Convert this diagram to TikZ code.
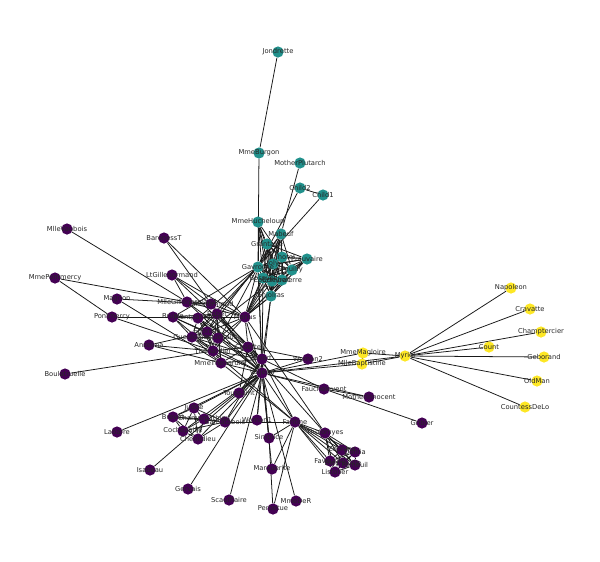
\documentclass[tikz,border=0pt]{standalone}
\usepackage{fontspec}
\setmainfont{DejaVu Sans}
\usepackage{tikz}
\usetikzlibrary{backgrounds}
\definecolor{grpA}{HTML}{440154}
\definecolor{grpB}{HTML}{21918C}
\definecolor{grpC}{HTML}{FDE725}

\begin{document}
\begin{tikzpicture}[x=0.025cm,y=-0.025cm,
  dot/.style={circle,inner sep=0pt,minimum size=0.28cm},
  lbl/.style={font=\fontsize{4.8}{5.5}\selectfont,inner sep=0pt,text=black!85},
  edge/.style={black!90,line width=0.55pt}]
  \useasboundingbox (0,0) rectangle (600,561);

  % the ten around the bishop
  \foreach \n/\x/\y in {Myriel/405/356, Napoleon/511/288, MlleBaptistine/362/364,
      MmeMagloire/363/353, CountessDeLo/525/407, Geborand/544/357,
      Champtercier/541/332, Cravatte/530/309, Count/489/347, OldMan/537/381}
    \node[dot,fill=grpC] (\n) at (\x,\y) {};

  % the barricade
  \foreach \n/\x/\y in {Jondrette/278/52, MmeBurgon/259/153, MotherPlutarch/300/163,
      Child2/300/188, Child1/323/195, MmeHucheloup/258/222, Mabeuf/281/234,
      Grantaire/267/244, Bahorel/282/257, Prouvaire/307/259, Joly/273/264,
      Gavroche/258/267, Feuilly/292/270, Bossuet/263/278, Courfeyrac/272/281,
      Combeferre/282/280, Enjolras/271/296}
    \node[dot,fill=grpB] (\n) at (\x,\y) {};

  % everybody else
  \foreach \n/\x/\y in {Labarre/117/432, Valjean/262/373, Marguerite/272/469,
      MmeDeR/296/501, Isabeau/150/470, Gervais/188/489, Tholomyes/325/433,
      Listolier/335/472, Fameuil/355/465, Blacheville/343/463, Favourite/330/461,
      Dahlia/355/452, Zephine/342/450, Fantine/295/422, MmeThenardier/221/363,
      Thenardier/213/351, Cosette/248/347, Javert/262/359, Fauchelevent/324/389,
      Bamatabois/225/422, Perpetue/273/509, Simplice/269/438, Scaufflaire/229/500,
      Woman1/257/420, Judge/194/408, Champmathieu/204/419, Brevet/173/417,
      Chenildieu/198/439, Cochepaille/183/431, Pontmercy/112/317,
      Boulatruelle/65/374, Eponine/207/332, Anzelma/149/345, Woman2/308/359,
      MotherInnocent/369/397, Gribier/422/423, Gillenormand/211/304,
      Magnon/117/299, MlleGillenormand/187/302, MmePontmercy/55/278,
      MlleVaubois/67/229, LtGillenormand/172/275, Marius/245/317,
      BaronessT/164/238, Gueulemer/192/337, Babet/217/314, Claquesous/218/338,
      Montparnasse/198/318, Toussaint/239/393, Brujon/173/317}
    \node[dot,fill=grpA] (\n) at (\x,\y) {};

  \begin{scope}[on background layer]
    \foreach \a/\b in {Napoleon/Myriel, MlleBaptistine/Myriel, MmeMagloire/Myriel,
        MmeMagloire/MlleBaptistine, CountessDeLo/Myriel, Geborand/Myriel,
        Champtercier/Myriel, Cravatte/Myriel, Count/Myriel, OldMan/Myriel,
        Valjean/Labarre, Valjean/MmeMagloire, Valjean/MlleBaptistine, Valjean/Myriel,
        Marguerite/Valjean, MmeDeR/Valjean, Isabeau/Valjean, Gervais/Valjean,
        Listolier/Tholomyes, Fameuil/Tholomyes, Fameuil/Listolier,
        Blacheville/Tholomyes, Blacheville/Listolier, Blacheville/Fameuil,
        Favourite/Tholomyes, Favourite/Listolier, Favourite/Fameuil,
        Favourite/Blacheville, Dahlia/Tholomyes, Dahlia/Listolier, Dahlia/Fameuil,
        Dahlia/Blacheville, Dahlia/Favourite, Zephine/Tholomyes, Zephine/Listolier,
        Zephine/Fameuil, Zephine/Blacheville, Zephine/Favourite, Zephine/Dahlia,
        Fantine/Tholomyes, Fantine/Listolier, Fantine/Fameuil, Fantine/Blacheville,
        Fantine/Favourite, Fantine/Dahlia, Fantine/Zephine, Fantine/Marguerite,
        Fantine/Valjean, MmeThenardier/Fantine, MmeThenardier/Valjean,
        Thenardier/MmeThenardier, Thenardier/Fantine, Thenardier/Valjean,
        Cosette/MmeThenardier, Cosette/Valjean, Cosette/Tholomyes,
        Cosette/Thenardier, Javert/Valjean, Javert/Fantine, Javert/Thenardier,
        Javert/MmeThenardier, Javert/Cosette, Fauchelevent/Valjean,
        Fauchelevent/Javert, Bamatabois/Fantine, Bamatabois/Javert,
        Bamatabois/Valjean, Perpetue/Fantine, Simplice/Perpetue, Simplice/Valjean,
        Simplice/Fantine, Simplice/Javert, Scaufflaire/Valjean, Woman1/Valjean,
        Woman1/Javert, Judge/Valjean, Judge/Bamatabois, Champmathieu/Valjean,
        Champmathieu/Judge, Champmathieu/Bamatabois, Brevet/Judge,
        Brevet/Champmathieu, Brevet/Valjean, Brevet/Bamatabois, Chenildieu/Judge,
        Chenildieu/Champmathieu, Chenildieu/Brevet, Chenildieu/Valjean,
        Chenildieu/Bamatabois, Cochepaille/Judge, Cochepaille/Champmathieu,
        Cochepaille/Brevet, Cochepaille/Chenildieu, Cochepaille/Valjean,
        Cochepaille/Bamatabois, Pontmercy/Thenardier, Boulatruelle/Thenardier,
        Eponine/MmeThenardier, Eponine/Thenardier, Anzelma/Eponine,
        Anzelma/Thenardier, Anzelma/MmeThenardier, Woman2/Valjean, Woman2/Cosette,
        Woman2/Javert, MotherInnocent/Fauchelevent, MotherInnocent/Valjean,
        Gribier/Fauchelevent, MmeBurgon/Jondrette, Gavroche/MmeBurgon,
        Gavroche/Thenardier, Gavroche/Javert, Gavroche/Valjean,
        Gillenormand/Cosette, Gillenormand/Valjean, Magnon/Gillenormand,
        Magnon/MmeThenardier, MlleGillenormand/Gillenormand,
        MlleGillenormand/Cosette, MlleGillenormand/Valjean,
        MmePontmercy/MlleGillenormand, MmePontmercy/Pontmercy,
        MlleVaubois/MlleGillenormand, LtGillenormand/MlleGillenormand,
        LtGillenormand/Gillenormand, LtGillenormand/Cosette,
        Marius/MlleGillenormand, Marius/Gillenormand, Marius/Pontmercy,
        Marius/LtGillenormand, Marius/Cosette, Marius/Valjean, Marius/Tholomyes,
        Marius/Thenardier, Marius/Eponine, Marius/Gavroche,
        BaronessT/Gillenormand, BaronessT/Marius, Mabeuf/Marius, Mabeuf/Eponine,
        Mabeuf/Gavroche, Enjolras/Marius, Enjolras/Gavroche, Enjolras/Javert,
        Enjolras/Mabeuf, Enjolras/Valjean, Combeferre/Enjolras, Combeferre/Marius,
        Combeferre/Gavroche, Combeferre/Mabeuf, Prouvaire/Gavroche,
        Prouvaire/Enjolras, Prouvaire/Combeferre, Feuilly/Gavroche,
        Feuilly/Enjolras, Feuilly/Prouvaire, Feuilly/Combeferre, Feuilly/Mabeuf,
        Feuilly/Marius, Courfeyrac/Marius, Courfeyrac/Enjolras,
        Courfeyrac/Combeferre, Courfeyrac/Gavroche, Courfeyrac/Mabeuf,
        Courfeyrac/Eponine, Courfeyrac/Feuilly, Courfeyrac/Prouvaire,
        Bahorel/Combeferre, Bahorel/Gavroche, Bahorel/Courfeyrac, Bahorel/Mabeuf,
        Bahorel/Enjolras, Bahorel/Feuilly, Bahorel/Prouvaire, Bahorel/Marius,
        Bossuet/Marius, Bossuet/Courfeyrac, Bossuet/Gavroche, Bossuet/Bahorel,
        Bossuet/Enjolras, Bossuet/Feuilly, Bossuet/Prouvaire, Bossuet/Combeferre,
        Bossuet/Mabeuf, Bossuet/Valjean, Joly/Bahorel, Joly/Bossuet, Joly/Gavroche,
        Joly/Courfeyrac, Joly/Enjolras, Joly/Feuilly, Joly/Prouvaire,
        Joly/Combeferre, Joly/Mabeuf, Joly/Marius, Grantaire/Bossuet,
        Grantaire/Enjolras, Grantaire/Combeferre, Grantaire/Courfeyrac,
        Grantaire/Joly, Grantaire/Gavroche, Grantaire/Bahorel, Grantaire/Feuilly,
        Grantaire/Prouvaire, MotherPlutarch/Mabeuf, Gueulemer/Thenardier,
        Gueulemer/Valjean, Gueulemer/MmeThenardier, Gueulemer/Javert,
        Gueulemer/Gavroche, Gueulemer/Eponine, Babet/Thenardier, Babet/Gueulemer,
        Babet/Valjean, Babet/MmeThenardier, Babet/Javert, Babet/Gavroche,
        Babet/Eponine, Claquesous/Thenardier, Claquesous/Babet,
        Claquesous/Gueulemer, Claquesous/Valjean, Claquesous/MmeThenardier,
        Claquesous/Javert, Claquesous/Eponine, Claquesous/Enjolras,
        Montparnasse/Javert, Montparnasse/Babet, Montparnasse/Gueulemer,
        Montparnasse/Claquesous, Montparnasse/Valjean, Montparnasse/Gavroche,
        Montparnasse/Eponine, Montparnasse/Thenardier, Toussaint/Cosette,
        Toussaint/Javert, Toussaint/Valjean, Child1/Gavroche, Child2/Gavroche,
        Child2/Child1, Brujon/Babet, Brujon/Gueulemer, Brujon/Thenardier,
        Brujon/Gavroche, Brujon/Eponine, Brujon/Claquesous, Brujon/Montparnasse,
        MmeHucheloup/Bossuet, MmeHucheloup/Joly, MmeHucheloup/Grantaire,
        MmeHucheloup/Bahorel, MmeHucheloup/Courfeyrac, MmeHucheloup/Gavroche,
        MmeHucheloup/Enjolras}
      \draw[edge] (\a) -- (\b);
  \end{scope}

  % names go on top of everything
  \foreach \n in {Myriel, Napoleon, MlleBaptistine, MmeMagloire, CountessDeLo,
      Geborand, Champtercier, Cravatte, Count, OldMan, Jondrette, MmeBurgon,
      MotherPlutarch, Child2, Child1, MmeHucheloup, Mabeuf, Grantaire, Bahorel,
      Prouvaire, Joly, Gavroche, Feuilly, Bossuet, Courfeyrac, Combeferre,
      Enjolras, Labarre, Valjean, Marguerite, MmeDeR, Isabeau, Gervais, Tholomyes,
      Listolier, Fameuil, Blacheville, Favourite, Dahlia, Zephine, Fantine,
      MmeThenardier, Thenardier, Cosette, Javert, Fauchelevent, Bamatabois,
      Perpetue, Simplice, Scaufflaire, Woman1, Judge, Champmathieu, Brevet,
      Chenildieu, Cochepaille, Pontmercy, Boulatruelle, Eponine, Anzelma, Woman2,
      MotherInnocent, Gribier, Gillenormand, Magnon, MlleGillenormand,
      MmePontmercy, MlleVaubois, LtGillenormand, Marius, BaronessT, Gueulemer,
      Babet, Claquesous, Montparnasse, Toussaint, Brujon}
    \node[lbl] (\n-lbl) at (\n) {\n};
\end{tikzpicture}
\end{document}
